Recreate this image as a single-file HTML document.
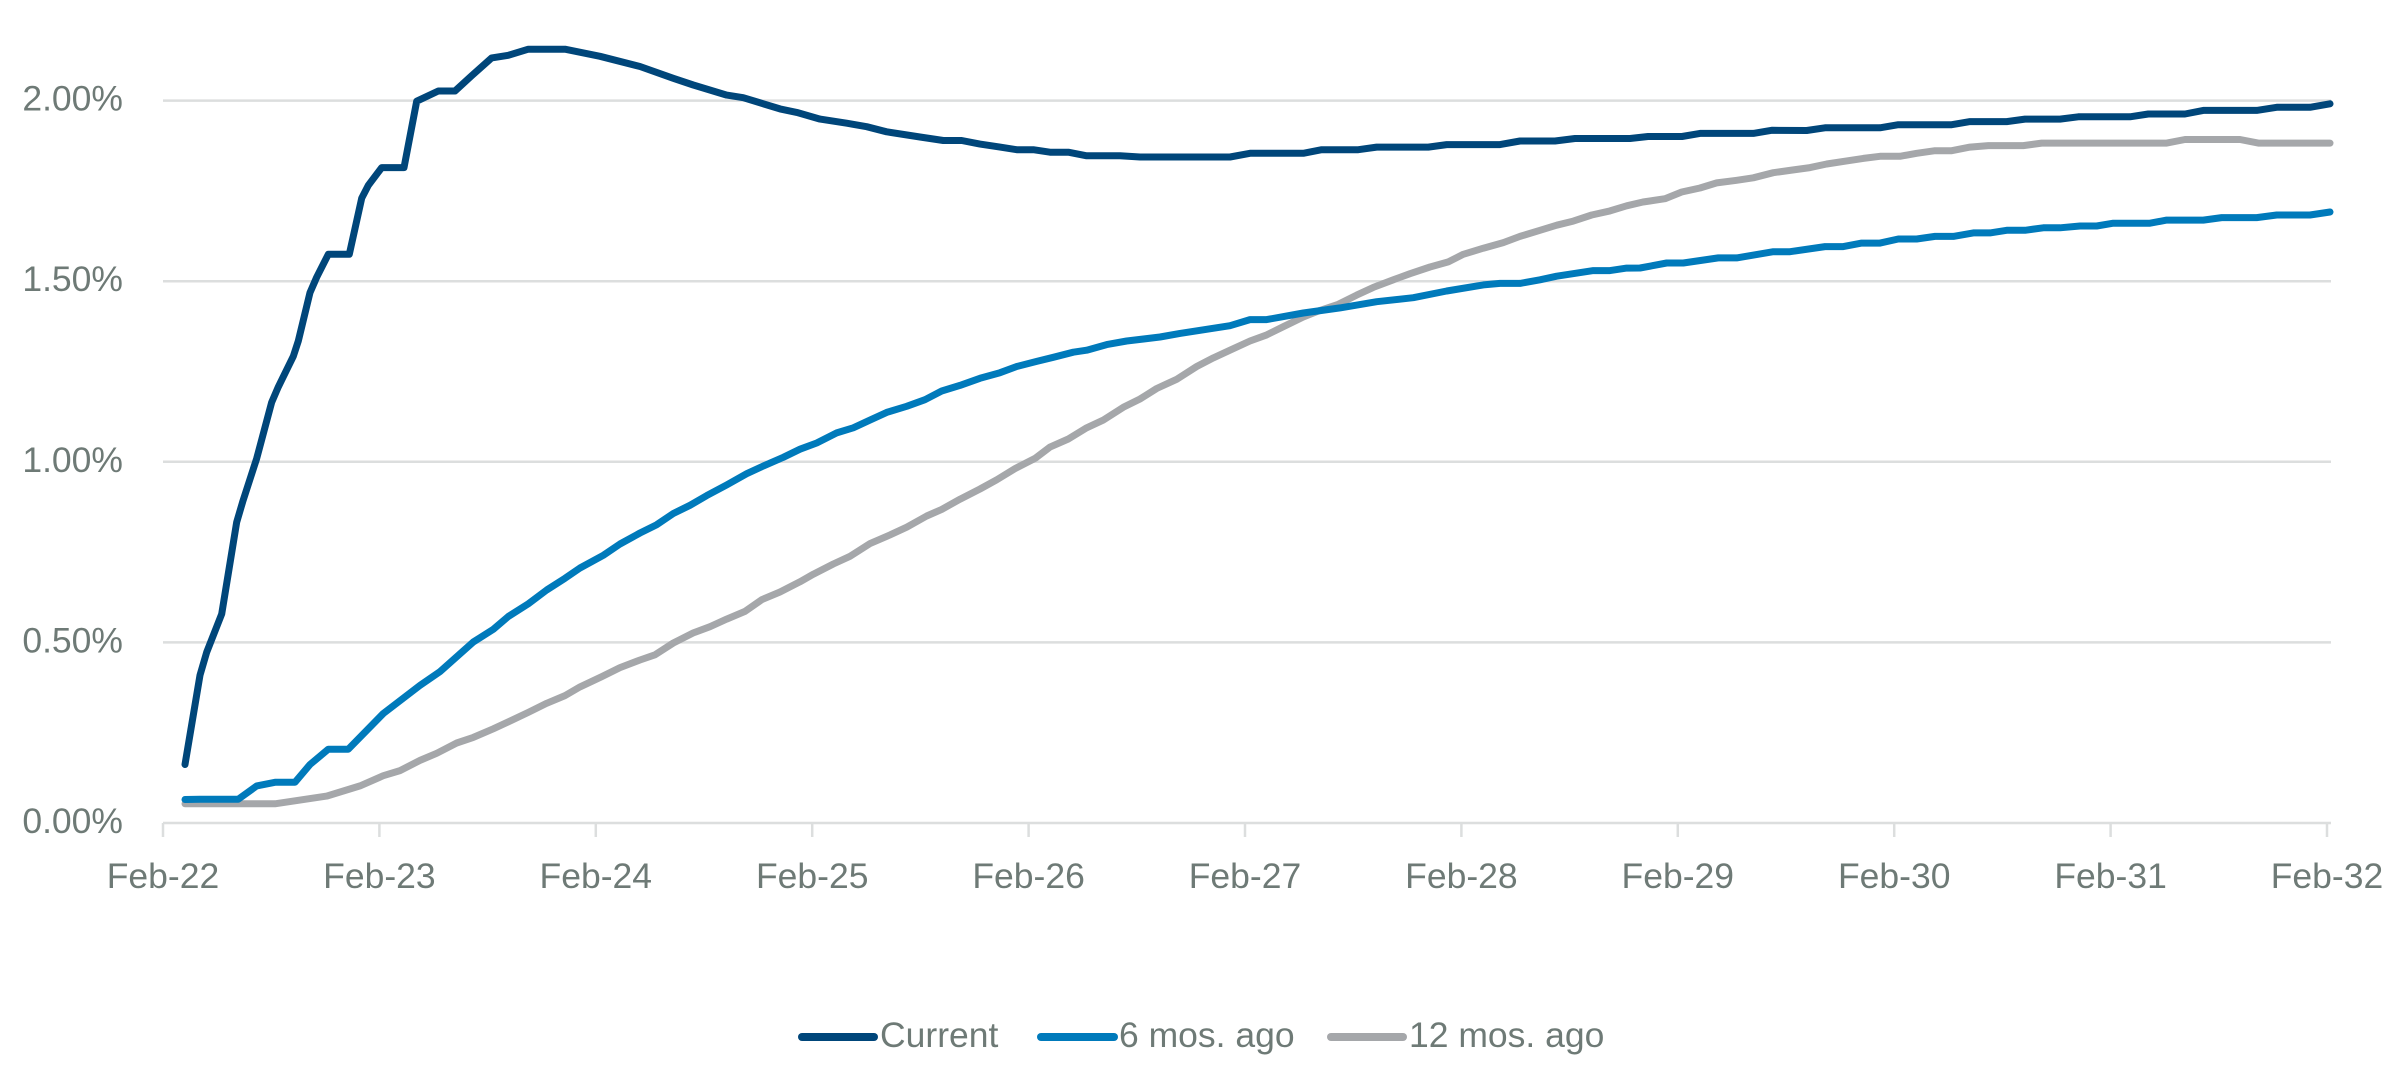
<!DOCTYPE html>
<html>
<head>
<meta charset="utf-8">
<style>
html,body{margin:0;padding:0;background:#fff;}
svg{display:block;}
text{font-family:"Liberation Sans",Arial,sans-serif;fill:#6E7A76;}
</style>
</head>
<body>
<svg width="2400" height="1083" viewBox="0 0 2400 1083" xmlns="http://www.w3.org/2000/svg">
<rect width="2400" height="1083" fill="#fff"/>
<!-- gridlines -->
<g stroke="#DCDEDE" stroke-width="2.5">
<line x1="163" y1="100.6" x2="2331" y2="100.6"/>
<line x1="163" y1="281.2" x2="2331" y2="281.2"/>
<line x1="163" y1="461.8" x2="2331" y2="461.8"/>
<line x1="163" y1="642.4" x2="2331" y2="642.4"/>
<line x1="163" y1="823" x2="2331" y2="823"/>
</g>
<!-- ticks -->
<g stroke="#DCDEDE" stroke-width="2.5">
<line x1="163" y1="823" x2="163" y2="837"/>
<line x1="379.4" y1="823" x2="379.4" y2="837"/>
<line x1="595.8" y1="823" x2="595.8" y2="837"/>
<line x1="812.2" y1="823" x2="812.2" y2="837"/>
<line x1="1028.6" y1="823" x2="1028.6" y2="837"/>
<line x1="1245" y1="823" x2="1245" y2="837"/>
<line x1="1461.4" y1="823" x2="1461.4" y2="837"/>
<line x1="1677.8" y1="823" x2="1677.8" y2="837"/>
<line x1="1894.2" y1="823" x2="1894.2" y2="837"/>
<line x1="2110.6" y1="823" x2="2110.6" y2="837"/>
<line x1="2327" y1="823" x2="2327" y2="837"/>
</g>
<!-- y labels -->
<g font-size="35.5" text-anchor="end">
<text x="123" y="110.6">2.00%</text>
<text x="123" y="291.2">1.50%</text>
<text x="123" y="471.8">1.00%</text>
<text x="123" y="652.4">0.50%</text>
<text x="123" y="833">0.00%</text>
</g>
<!-- x labels -->
<g font-size="35.5" text-anchor="middle">
<text x="163" y="888">Feb-22</text>
<text x="379.4" y="888">Feb-23</text>
<text x="595.8" y="888">Feb-24</text>
<text x="812.2" y="888">Feb-25</text>
<text x="1028.6" y="888">Feb-26</text>
<text x="1245" y="888">Feb-27</text>
<text x="1461.4" y="888">Feb-28</text>
<text x="1677.8" y="888">Feb-29</text>
<text x="1894.2" y="888">Feb-30</text>
<text x="2110.6" y="888">Feb-31</text>
<text x="2327" y="888">Feb-32</text>
</g>
<!-- series -->
<g fill="none" stroke-width="7" stroke-linejoin="round" stroke-linecap="round">
<polyline stroke="#A5A7AA" points="185,803.8 275,803.8 326.7,796.1 360,785.9 383.3,775.7 400,770.6 420,760.4 436.7,753.3 456.7,743 473.3,737.4 493.3,728.8 510,721.1 528.3,712.4 546.7,703.3 565,695.6 580,686.9 601.7,676.7 620,667.6 640,660 655,654.8 673.3,643 693.3,632.9 710,626.7 726.7,619.1 745,611.4 761.7,599.7 780,592 800,581.8 813.3,574.2 833.3,564 850,556.3 870,543.6 890,534.9 906.7,527.2 926.7,516 941.7,509.4 960,499.2 980,489 996.7,479.8 1015,468.6 1035,458.4 1050,447.1 1068.3,439 1086.7,427.8 1103.3,420.1 1123.3,407.3 1140,399 1156.7,388.5 1176.7,379.3 1196.7,366.5 1213.3,357.9 1230,350.2 1250,341 1266.7,334.9 1283.3,326.7 1303.3,317 1320,310.4 1338.3,304.3 1356.7,295.1 1373.3,287.4 1393.3,279.8 1410,273.7 1430,267 1448.3,261.9 1463.3,254.3 1483.3,248.2 1503.3,242.6 1520,236.4 1540,230.3 1556.7,225.2 1573.3,221.1 1591.7,215 1610,210.9 1626.7,205.8 1643,202 1665,198.7 1681.7,192 1700,188 1716.7,182.9 1736.7,180.3 1753.3,177.8 1773.3,172.7 1791.7,170.1 1810,167.6 1826.7,164 1846.7,160.9 1863.3,158.4 1880,156.3 1900,156.3 1916.7,153.3 1935,150.7 1951.7,150.7 1970,147.1 1988.3,145.6 2023.3,145.6 2041.7,143.1 2166.7,143.1 2185,139.5 2240,139.5 2258.3,143.1 2330,143.1"/>
<polyline stroke="#007ABB" points="185,799.5 200,799.2 238.3,799.2 256.7,785.9 275,782.3 295,782.3 310,764.5 328.3,749.2 348.3,749.2 383.3,713.5 420,685.4 440,671.6 473.3,642 493.3,629.3 508.3,616.5 528.3,603.8 546.7,590 565,578.3 580,568 603.3,555.3 620,544 640,533 656.7,524.7 673.3,513.5 690,505.3 706.7,495.6 726.7,484.9 746.7,473.7 763.3,466 783.3,457.3 800,449.2 816.7,443 836.7,432.9 853.3,427.8 870,420.1 886.7,412.4 906.7,406.3 925,399.7 941.7,391 960,385.4 980,378.3 1000,372.7 1016.7,366.5 1036.7,361.4 1053.3,357.3 1073.3,352.2 1086.7,350.2 1106.7,344.6 1126.7,341 1160,337 1180,333.4 1230,325.7 1250,319.6 1266.7,319.6 1303.3,313 1340,307.9 1376.7,301.7 1413.3,297.7 1446.7,291 1483.3,284.9 1500,283.4 1520,283.4 1540,279.8 1556.7,276.2 1593.3,270.6 1610,270.6 1626.7,268.1 1640,268 1666.7,263 1683.3,263 1718.3,257.9 1736.7,257.9 1773.3,251.7 1790,251.7 1825,246.6 1843.3,246.6 1861.7,243.1 1880,243.1 1898.3,239 1916.7,239 1935,236.4 1953.3,236.4 1973.3,232.9 1990,232.9 2006.7,230.3 2025,230.3 2043.3,227.8 2060,227.8 2080,226 2096.7,226 2113.3,223.2 2150,223.2 2166.7,220.1 2203.3,220.1 2221.7,217.6 2256.7,217.6 2276.7,215 2310,215 2330,212"/>
<polyline stroke="#00467A" points="185,764.5 200,675.2 206.7,652.2 221.7,614 236.7,522.1 242.7,501.7 256.7,458.4 271.7,402.2 278.3,386.9 293.3,356.3 298.3,341 310,292.6 316.7,277.2 328.3,254.3 349.3,254.3 361.7,198.2 368.3,185.4 381.7,167.6 404,167.6 416.7,101.2 438.3,91 455,91 471.7,75.7 491.7,57.9 508.3,55.3 528.3,49.2 565,49.2 600,56.3 640,66.5 673.3,78.3 693.3,85 726.7,95.1 743.3,97.7 780,108.9 796.7,112.4 820,119.1 846.7,123.2 866.7,126.7 886.7,131.8 920,137 943.3,140.5 961.7,140.5 980,144.1 1000,147.1 1016.7,149.7 1033.3,149.7 1050,152.2 1068.3,152.2 1086.7,155.8 1120,155.8 1140,157 1230,157 1250,153.3 1303.3,153.3 1321.7,149.7 1358.3,149.7 1376.7,147.1 1428.3,147.1 1446.7,144.6 1500,144.6 1520,141 1555,141 1575,138.5 1630,138.5 1648,136.5 1682,136.5 1700,133.4 1753.3,133.4 1771.7,130.3 1806.7,130.5 1825,127.8 1880,127.8 1898.3,124.7 1951.7,124.7 1970,121.6 2006.7,121.6 2025,119.1 2060,119.1 2078.3,116.8 2130,116.8 2148.3,114 2185,114 2203.3,110.4 2256.7,110.4 2276.7,107.3 2310,107.3 2330,103.8"/>
</g>
<!-- legend -->
<g stroke-width="8" stroke-linecap="round">
<line x1="802" y1="1037" x2="874" y2="1037" stroke="#00467A"/>
<line x1="1041" y1="1037" x2="1114" y2="1037" stroke="#007ABB"/>
<line x1="1331" y1="1037" x2="1403" y2="1037" stroke="#A5A7AA"/>
</g>
<g font-size="35.5">
<text x="880" y="1047">Current</text>
<text x="1119" y="1047">6 mos. ago</text>
<text x="1409" y="1047">12 mos. ago</text>
</g>
</svg>
</body>
</html>
